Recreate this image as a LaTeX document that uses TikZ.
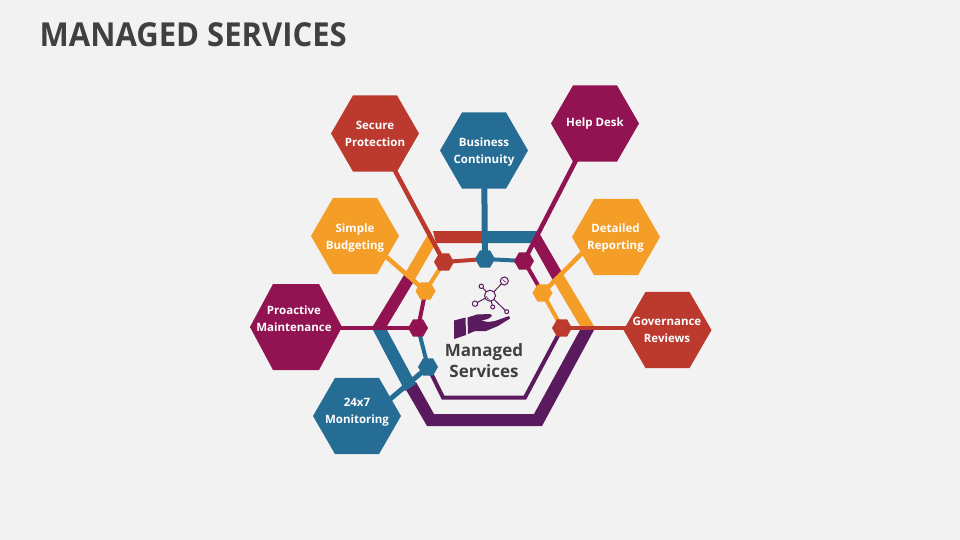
\documentclass[tikz,border=0pt]{standalone}
\usepackage{fontspec}
\setmainfont{Open Sans}
\usetikzlibrary{shapes.geometric}
\definecolor{bgc}{HTML}{F2F2F2}
\definecolor{cred}{HTML}{BC392E}
\definecolor{cblue}{HTML}{266D95}
\definecolor{cmag}{HTML}{921351}
\definecolor{corg}{HTML}{F49D27}
\definecolor{cpur}{HTML}{5A1A5E}
\definecolor{ctxt}{HTML}{404040}
\pgfdeclarelayer{under}
\pgfsetlayers{under,main}
\tikzset{
  bighex/.style={regular polygon,regular polygon sides=6,minimum size=88pt,inner sep=0pt,draw=none,fill=#1},
  bigtext/.style={text=white,align=center,font=\fontsize{11.5}{17}\selectfont\bfseries,inner sep=0pt},
  smallhex/.style={regular polygon,regular polygon sides=6,minimum size=20pt,inner sep=0pt,draw=none,fill=#1},
  spoke/.style={draw=#1,line width=4.5pt},
  ring/.style={draw=#1,line width=4pt,line join=miter},
  icon/.style={draw=cpur,line width=1pt,fill=bgc}
}
\begin{document}
\begin{tikzpicture}[x=1pt,y=-1pt]
\node[anchor=west,inner sep=0pt,text=ctxt,xscale=.94,font=\fontsize{33}{36}\selectfont\bfseries] (title) at (39.5,35) {MANAGED SERVICES};
% big hexes
\node[bighex=cred] (nSec) at (375,133.5) {};
\node[bigtext] (tSec) at (375,133.5) {Secure\\Protection};
\node[bighex=cblue] (nBus) at (484,150.5) {};
\node[bigtext] (tBus) at (484,152) {Business\\Continuity};
\node[bighex=cmag] (nHelp) at (595,123.5) {};
\node[bigtext] (tHelp) at (595,124) {Help Desk};
\node[bighex=corg] (nSim) at (355,236) {};
\node[bigtext] (tSim) at (355,238) {Simple\\Budgeting};
\node[bighex=cmag,minimum size=99.3pt,xscale=.927] (nPro) at (296,327) {};
\node[bigtext] (tPro) at (294,319) {Proactive\\Maintenance};
\node[bighex=cblue] (nMon) at (357,416) {};
\node[bigtext] (tMon) at (357,412.5) {24x7\\Monitoring};
\node[bighex=corg] (nDet) at (616,237) {};
\node[bigtext] (tDet) at (615.5,238) {Detailed\\Reporting};
\node[bighex=cred] (nGov) at (667.5,330) {};
\node[bigtext] (tGov) at (667,330) {Governance\\Reviews};
% small hexes
\node[smallhex=cred] (hRed) at (444,262) {};
\node[smallhex=cblue] (hBlue) at (485,259) {};
\node[smallhex=cmag] (hMag) at (524,261) {};
\node[smallhex=corg] (hOrgR) at (542.5,293) {};
\node[smallhex=cred] (hRedR) at (562,328) {};
\node[smallhex=corg] (hOrgL) at (425.5,291) {};
\node[smallhex=cmag] (hMagL) at (418,328) {};
\node[smallhex=cblue] (hBlueL) at (428,367) {};
\coordinate (pA) at (443,397.5);
\coordinate (pB) at (525,397.5);
\coordinate (cSim) at (375,247);
\coordinate (cMon) at (375,412);
\coordinate (cDet) at (590,245);
\coordinate (cGov) at (640,328);
\coordinate (cPro) at (330,328);
\begin{pgfonlayer}{under}
\fill[bgc] (0,0) rectangle (960,540);
% outer ring
\fill[cred] (433,231) -- (485,231) -- (485,243) -- (436,243) -- cycle;
\fill[cblue] (485,231) -- (538,231) -- (532,243) -- (485,243) -- cycle;
\fill[cmag] (538,231) -- (562.2,272.8) -- (553.6,281.4) -- (532,243) -- cycle;
\fill[corg] (562.2,272.8) -- (594,326) -- (580,326) -- (553.6,281.4) -- cycle;
\fill[cpur] (594,330) -- (542,426) -- (427,426) -- (405,388) -- (416,382) -- (434,414) -- (534,414) -- (580,330) -- cycle;
\fill[cblue] (373,330) -- (387,330) -- (416,384) -- (405,391) -- cycle;
\fill[cmag] (373,326) -- (405,273.4) -- (414,281) -- (387,326) -- cycle;
\fill[corg] (405,273.4) -- (430,231) -- (436,243) -- (414,281) -- cycle;
% inner ring
\draw[ring=cred] (hRed.center) -- (hBlue.center);
\draw[ring=cblue] (hBlue.center) -- (hMag.center);
\draw[ring=cmag] (hMag.center) -- (hOrgR.center);
\draw[ring=corg] (hOrgR.center) -- (hRedR.center);
\draw[ring=corg] (hRed.center) -- (hOrgL.center);
\draw[ring=cmag] (hOrgL.center) -- (hMagL.center);
\draw[ring=cblue] (hMagL.center) -- (hBlueL.center);
\draw[ring=cpur] (hBlueL.center) -- (pA) -- (pB) -- (hRedR.center);
% spokes
\draw[spoke=cred] (nSec.center) -- (hRed.center);
\draw[spoke=cblue,line width=6pt] (nBus.center) -- (hBlue.center);
\draw[spoke=cmag] (nHelp.center) -- (hMag.center);
\draw[spoke=corg] (cSim) -- (hOrgL.center);
\draw[spoke=cmag] (cPro) -- (hMagL.center);
\draw[spoke=cblue,line width=5pt] (cMon) -- (hBlueL.center);
\draw[spoke=corg] (cDet) -- (hOrgR.center);
\draw[spoke=cred] (cGov) -- (hRedR.center);
\end{pgfonlayer}
% icon
\coordinate (ic) at (490,295.7);
\coordinate (i1) at (504.3,281);
\coordinate (i2) at (481.3,286.3);
\coordinate (i3) at (475,303.7);
\coordinate (i4) at (492.7,307);
\coordinate (i5) at (506.7,311.7);
\draw[icon] (ic) -- (i1) (ic) -- (i2) (ic) -- (i3) (ic) -- (i4) (ic) -- (i5);
\draw[icon] (ic) circle[radius=5.5];
\draw[icon] (i1) circle[radius=4];
\draw[icon] (i2) circle[radius=2.2];
\draw[icon] (i3) circle[radius=2.7];
\draw[icon] (i4) circle[radius=2];
\draw[icon] (i5) circle[radius=2];
\draw[cpur,line width=.6pt] (486.5,296) arc[start angle=180,end angle=100,radius=3.5];
\draw[cpur,line width=.6pt] (502.5,279.5) -- (506,282.5);
\fill[cpur] (454,320.5) -- (465.5,317.5) -- (466,335) -- (454,339) -- cycle;
\fill[cpur] (467.5,317.5) -- (477,314.5) -- (490,314) -- (492,316) -- (488,319) -- (481,320.5) -- (488,322) -- (495,321) -- (509,316) -- (510,318.5) -- (498,326) -- (486,331) -- (475,331) -- (468,334) -- cycle;
\node[text=ctxt,align=center,inner sep=0pt,font=\fontsize{17}{21}\selectfont\bfseries] (tCenter) at (484,361) {Managed\\Services};
\path[use as bounding box] (0,0) rectangle (960,540);
\end{tikzpicture}
\end{document}
